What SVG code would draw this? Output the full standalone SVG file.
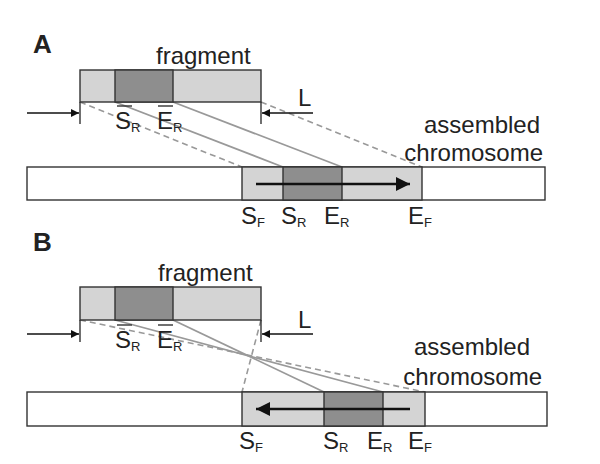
<svg xmlns="http://www.w3.org/2000/svg" width="600" height="464" viewBox="0 0 600 464">
<defs><marker id="ah" viewBox="0 0 10 10" refX="10" refY="5" markerWidth="8" markerHeight="8" markerUnits="userSpaceOnUse" orient="auto"><path d="M0,0L10,5L0,10z" fill="#111"/></marker>
<marker id="ab" viewBox="0 0 10 10" refX="10" refY="5" markerWidth="16" markerHeight="14" markerUnits="userSpaceOnUse" orient="auto"><path d="M0,0L10,5L0,10z" fill="#111"/></marker></defs>
<style>
text{font-family:"Liberation Sans",Arial,sans-serif;fill:#222}
.t{font-size:24px}.s{font-size:13px}.h{font-size:26px;font-weight:bold}
.b{stroke:#333;stroke-width:1.4}
.sl{stroke:#999;stroke-width:1.8;fill:none}
.dl{stroke:#999;stroke-width:1.6;fill:none;stroke-dasharray:6,4}
.ar{stroke:#111;stroke-width:1.5;marker-end:url(#ah)}
.big{stroke:#111;stroke-width:2.5;marker-end:url(#ab)}
.e{text-anchor:end}
</style>
<rect width="600" height="464" fill="#fff"/>
<text class="h" x="33" y="53">A</text>
<text class="h" x="33" y="251">B</text>
<g id="connectors">
<line class="dl" x1="80" y1="102" x2="242" y2="167"/>
<line class="sl" x1="115" y1="102" x2="283" y2="167"/>
<line class="sl" x1="173" y1="102" x2="342" y2="167"/>
<line class="dl" x1="261" y1="102" x2="422" y2="167"/>
<line class="dl" x1="80" y1="320" x2="425" y2="392"/>
<line class="sl" x1="115" y1="320" x2="383" y2="392"/>
<line class="sl" x1="173" y1="320" x2="324" y2="392"/>
<line class="dl" x1="261" y1="320" x2="242" y2="392"/>
</g>
<g id="fragA">
<rect class="b" x="80" y="70" width="181" height="32" fill="#d4d4d4"/>
<rect class="b" x="115" y="70" width="58" height="32" fill="#8e8e8e"/>
<text class="t" x="156" y="64">fragment</text>
<line class="b" x1="80" y1="102" x2="80" y2="124"/><line class="b" x1="261" y1="102" x2="261" y2="124"/>
<line class="ar" x1="27" y1="113" x2="79" y2="113"/><line class="ar" x1="313" y1="113" x2="262" y2="113"/>
<text class="t" x="298" y="106">L</text>
<line class="b" x1="117" y1="106" x2="132" y2="106"/><line class="b" x1="158" y1="106" x2="173" y2="106"/>
<text class="t" x="115" y="129">S<tspan class="s" dy="3">R</tspan></text>
<text class="t" x="157" y="129">E<tspan class="s" dy="3">R</tspan></text>
</g>
<g id="chromA">
<rect class="b" x="27" y="167" width="518" height="33" fill="#fff"/>
<rect class="b" x="242" y="167" width="180" height="33" fill="#d4d4d4"/>
<rect class="b" x="283" y="167" width="59" height="33" fill="#8e8e8e"/>
<line class="big" x1="256" y1="184" x2="410" y2="184"/>
<text class="t e" x="540" y="133">assembled</text>
<text class="t e" x="543" y="161">chromosome</text>
<text class="t" x="241" y="224">S<tspan class="s" dy="3">F</tspan></text>
<text class="t" x="281" y="224">S<tspan class="s" dy="3">R</tspan></text>
<text class="t" x="324" y="224">E<tspan class="s" dy="3">R</tspan></text>
<text class="t" x="408" y="224">E<tspan class="s" dy="3">F</tspan></text>
</g>
<g id="fragB">
<rect class="b" x="80" y="287" width="181" height="33" fill="#d4d4d4"/>
<rect class="b" x="115" y="287" width="58" height="33" fill="#8e8e8e"/>
<text class="t" x="158" y="281">fragment</text>
<line class="b" x1="80" y1="320" x2="80" y2="342"/><line class="b" x1="261" y1="320" x2="261" y2="342"/>
<line class="ar" x1="27" y1="334" x2="79" y2="334"/><line class="ar" x1="313" y1="334" x2="262" y2="334"/>
<text class="t" x="298" y="328">L</text>
<line class="b" x1="117" y1="325" x2="132" y2="325"/><line class="b" x1="158" y1="325" x2="173" y2="325"/>
<text class="t" x="115" y="348">S<tspan class="s" dy="3">R</tspan></text>
<text class="t" x="157" y="348">E<tspan class="s" dy="3">R</tspan></text>
</g>
<g id="chromB">
<rect class="b" x="27" y="392" width="520" height="34" fill="#fff"/>
<rect class="b" x="242" y="392" width="183" height="34" fill="#d4d4d4"/>
<rect class="b" x="324" y="392" width="59" height="34" fill="#8e8e8e"/>
<line class="big" x1="410" y1="409" x2="256" y2="409"/>
<text class="t e" x="530" y="355">assembled</text>
<text class="t e" x="542" y="385">chromosome</text>
<text class="t" x="239" y="449">S<tspan class="s" dy="3">F</tspan></text>
<text class="t" x="323" y="449">S<tspan class="s" dy="3">R</tspan></text>
<text class="t" x="367" y="449">E<tspan class="s" dy="3">R</tspan></text>
<text class="t" x="408" y="449">E<tspan class="s" dy="3">F</tspan></text>
</g>
</svg>
